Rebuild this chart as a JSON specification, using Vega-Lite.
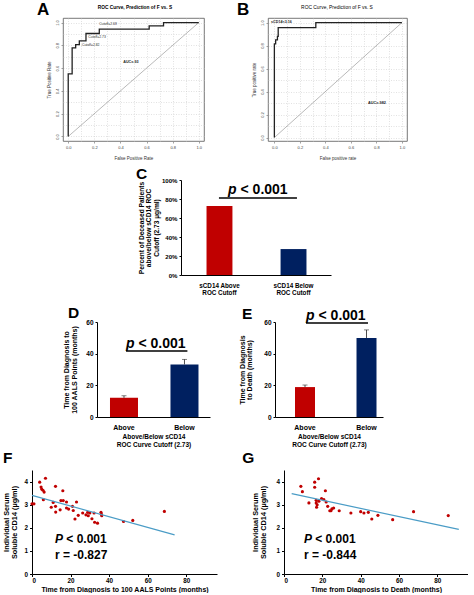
{
  "$schema": "https://vega.github.io/schema/vega-lite/v6.json",
  "description": "ROC curves, bar comparisons and scatter plots of soluble CD14",
  "background": "white",
  "padding": {"left": 2, "top": 0, "right": 0, "bottom": 0},
  "config": {
    "font": "Liberation Sans",
    "view": {"stroke": null},
    "axis": {"labelColor": "#000", "titleColor": "#000", "domainColor": "#000", "tickColor": "#000", "grid": false}
  },
  "spacing": 10,
  "vconcat": [
    {
      "spacing": 7,
      "vconcat": [
        {
          "spacing": 0,
          "hconcat": [
            {"width": 4, "height": 1, "view": {"fill": "#ffffff"}, "data": {"values": []}, "mark": "point", "encoding": {}},
            {
              "spacing": 31,
              "hconcat": [
                {
                  "width": 141,
                  "height": 123,
                  "view": {"stroke": "#555", "strokeWidth": 0.8},
                  "encoding": {
                    "x": {
                      "field": "fpr", "type": "quantitative",
                      "scale": {"domain": [-0.04, 1.04], "nice": false, "zero": false},
                      "axis": {
                        "title": "False Positive Rate", "values": [0, 0.1, 0.2, 0.3, 0.4, 0.5, 0.6, 0.7, 0.8, 0.9, 1],
                        "labelExpr": "round(datum.value * 10) % 2 == 0 ? format(datum.value, '.1f') : ''",
                        "labelFontSize": 4, "titleFontSize": 4.5, "titleFontWeight": "normal",
                        "labelColor": "#444", "titleColor": "#333", "domain": false,
                        "tickSize": 2, "tickColor": "#666", "tickWidth": 0.6,
                        "tickOpacity": {"condition": {"test": "round(datum.value * 10) % 2 == 1", "value": 0}, "value": 1},
                        "grid": true, "gridColor": "#cfcfcf", "gridDash": [1, 1.5], "gridWidth": 0.6,
                        "labelPadding": 2, "titlePadding": 6
                      }
                    },
                    "y": {
                      "field": "tpr", "type": "quantitative",
                      "scale": {"domain": [-0.04, 1.04], "nice": false, "zero": false},
                      "axis": {
                        "title": "True Positive Rate", "values": [0, 0.1, 0.2, 0.3, 0.4, 0.5, 0.6, 0.7, 0.8, 0.9, 1],
                        "labelExpr": "round(datum.value * 10) % 2 == 0 ? format(datum.value, '.1f') : ''",
                        "labelFontSize": 4, "titleFontSize": 4.5, "titleFontWeight": "normal",
                        "labelColor": "#444", "titleColor": "#333", "domain": false,
                        "labelAngle": -90, "labelAlign": "center", "labelBaseline": "bottom",
                        "tickSize": 2, "tickColor": "#666", "tickWidth": 0.6,
                        "tickOpacity": {"condition": {"test": "round(datum.value * 10) % 2 == 1", "value": 0}, "value": 1},
                        "grid": true, "gridColor": "#cfcfcf", "gridDash": [1, 1.5], "gridWidth": 0.6,
                        "labelPadding": 2, "titlePadding": 4
                      }
                    }
                  },
                  "layer": [
                    {
                      "data": {"values": [{"fpr": 0, "tpr": 0}, {"fpr": 1, "tpr": 1}]},
                      "mark": {"type": "line", "color": "#8a8a8a", "strokeWidth": 0.6}
                    },
                    {
                      "data": {"values": [
                        {"fpr": 0, "tpr": 0}, {"fpr": 0, "tpr": 0.55}, {"fpr": 0.03, "tpr": 0.777},
                        {"fpr": 0.057, "tpr": 0.806}, {"fpr": 0.085, "tpr": 0.84}, {"fpr": 0.136, "tpr": 0.904},
                        {"fpr": 0.238, "tpr": 0.942}, {"fpr": 0.62, "tpr": 0.97}, {"fpr": 0.73, "tpr": 1},
                        {"fpr": 1, "tpr": 1}
                      ]},
                      "mark": {"type": "line", "interpolate": "step-after", "color": "#222", "strokeWidth": 1.3},
                      "encoding": {"order": {"value": null}}
                    },
                    {
                      "data": {"values": [
                        {"fpr": 0.238, "tpr": 0.983, "t": "Cutoff=2.68"},
                        {"fpr": 0.154, "tpr": 0.876, "t": "Cutoff=2.73"},
                        {"fpr": 0.105, "tpr": 0.806, "t": "Cutoff=2.82"}
                      ]},
                      "mark": {"type": "text", "align": "left", "baseline": "middle", "fontSize": 3.4, "color": "#333"},
                      "encoding": {"text": {"field": "t"}}
                    },
                    {
                      "data": {"values": [{"fpr": 0.48, "tpr": 0.652, "t": "AUC=.93"}]},
                      "mark": {"type": "text", "align": "center", "baseline": "middle", "fontSize": 3.7, "fontWeight": "bold", "color": "#222"},
                      "encoding": {"text": {"field": "t"}}
                    },
                    {
                      "data": {"values": [{"fpr": 0.511, "tpr": 1.128, "t": "ROC Curve, Prediction of F vs. S"}]},
                      "mark": {"type": "text", "align": "center", "baseline": "middle", "fontSize": 4.8, "fontWeight": "bold", "color": "#000"},
                      "encoding": {"text": {"field": "t"}}
                    },
                    {
                      "data": {"values": [{"fpr": -0.239, "tpr": 1.066, "t": "A"}]},
                      "mark": {"type": "text", "align": "left", "baseline": "alphabetic", "fontSize": 17, "fontWeight": "bold", "color": "#000"},
                      "encoding": {"text": {"field": "t"}}
                    }
                  ]
                },
                {
                  "width": 139,
                  "height": 123,
                  "view": {"stroke": "#555", "strokeWidth": 0.8},
                  "encoding": {
                    "x": {
                      "field": "fpr", "type": "quantitative",
                      "scale": {"domain": [-0.05, 1.04], "nice": false, "zero": false},
                      "axis": {
                        "title": "False positive rate", "values": [0, 0.1, 0.2, 0.3, 0.4, 0.5, 0.6, 0.7, 0.8, 0.9, 1],
                        "labelExpr": "round(datum.value * 10) % 2 == 0 ? format(datum.value, '.1f') : ''",
                        "labelFontSize": 4, "titleFontSize": 4.5, "titleFontWeight": "normal",
                        "labelColor": "#444", "titleColor": "#333", "domain": false,
                        "tickSize": 2, "tickColor": "#666", "tickWidth": 0.6,
                        "tickOpacity": {"condition": {"test": "round(datum.value * 10) % 2 == 1", "value": 0}, "value": 1},
                        "grid": true, "gridColor": "#cfcfcf", "gridDash": [1, 1.5], "gridWidth": 0.6,
                        "labelPadding": 2, "titlePadding": 6
                      }
                    },
                    "y": {
                      "field": "tpr", "type": "quantitative",
                      "scale": {"domain": [-0.03, 1.04], "nice": false, "zero": false},
                      "axis": {
                        "title": "True positive rate", "values": [0, 0.1, 0.2, 0.3, 0.4, 0.5, 0.6, 0.7, 0.8, 0.9, 1],
                        "labelExpr": "round(datum.value * 10) % 2 == 0 ? format(datum.value, '.1f') : ''",
                        "labelFontSize": 4, "titleFontSize": 4.5, "titleFontWeight": "normal",
                        "labelColor": "#444", "titleColor": "#333", "domain": false,
                        "labelAngle": -90, "labelAlign": "center", "labelBaseline": "bottom",
                        "tickSize": 2, "tickColor": "#666", "tickWidth": 0.6,
                        "tickOpacity": {"condition": {"test": "round(datum.value * 10) % 2 == 1", "value": 0}, "value": 1},
                        "grid": true, "gridColor": "#cfcfcf", "gridDash": [1, 1.5], "gridWidth": 0.6,
                        "labelPadding": 2, "titlePadding": 4
                      }
                    }
                  },
                  "layer": [
                    {
                      "data": {"values": [{"fpr": 0, "tpr": 0}, {"fpr": 1, "tpr": 1}]},
                      "mark": {"type": "line", "color": "#8a8a8a", "strokeWidth": 0.6}
                    },
                    {
                      "data": {"values": [
                        {"fpr": 0, "tpr": 0}, {"fpr": 0, "tpr": 0.815}, {"fpr": 0.01, "tpr": 0.85},
                        {"fpr": 0.024, "tpr": 0.88}, {"fpr": 0.03, "tpr": 0.957}, {"fpr": 0.325, "tpr": 1},
                        {"fpr": 1, "tpr": 1}
                      ]},
                      "mark": {"type": "line", "interpolate": "step-after", "color": "#222", "strokeWidth": 1.3},
                      "encoding": {"order": {"value": null}}
                    },
                    {
                      "data": {"values": [{"fpr": -0.026, "tpr": 1.005, "t": "sCD14<3.16"}]},
                      "mark": {"type": "text", "align": "left", "baseline": "middle", "fontSize": 3.7, "fontWeight": "bold", "color": "#222"},
                      "encoding": {"text": {"field": "t"}}
                    },
                    {
                      "data": {"values": [{"fpr": 0.805, "tpr": 0.3, "t": "AUC=.982"}]},
                      "mark": {"type": "text", "align": "center", "baseline": "middle", "fontSize": 3.8, "fontWeight": "bold", "color": "#222"},
                      "encoding": {"text": {"field": "t"}}
                    },
                    {
                      "data": {"values": [{"fpr": 0.491, "tpr": 1.127, "t": "ROC Curve, Prediction of F vs. S"}]},
                      "mark": {"type": "text", "align": "center", "baseline": "middle", "fontSize": 4.9, "color": "#000"},
                      "encoding": {"text": {"field": "t"}}
                    },
                    {
                      "data": {"values": [{"fpr": -0.293, "tpr": 1.066, "t": "B"}]},
                      "mark": {"type": "text", "align": "left", "baseline": "alphabetic", "fontSize": 17, "fontWeight": "bold", "color": "#000"},
                      "encoding": {"text": {"field": "t"}}
                    }
                  ]
                }
              ]
            }
          ]
        },
        {
          "spacing": 0,
          "hconcat": [
            {"width": 104, "height": 1, "view": {"fill": "#ffffff"}, "data": {"values": []}, "mark": "point", "encoding": {}},
            {
              "width": 150,
              "height": 95,
              "resolve": {"scale": {"x": "independent"}},
              "encoding": {
                "y": {
                  "field": "value", "type": "quantitative",
                  "scale": {"domain": [0, 100], "nice": false},
                  "axis": {
                    "values": [0, 20, 40, 60, 80, 100], "labelExpr": "datum.value + '%'",
                    "title": ["Percent of Deceased Patients", "above/below sCD14 ROC", "Cutoff (2.73 µg/ml)"],
                    "titleFontSize": 6.6, "titleFontWeight": "bold", "titleLineHeight": 7.6,
                    "labelFontSize": 6.1, "labelFontWeight": "bold", "tickSize": 2, "labelPadding": 2, "titlePadding": 2
                  }
                }
              },
              "layer": [
                {
                  "data": {"values": [{"group": "Above", "value": 72.7}, {"group": "Below", "value": 27.3}]},
                  "mark": {"type": "bar"},
                  "encoding": {
                    "x": {
                      "field": "group", "type": "nominal",
                      "scale": {"paddingInner": 0.65, "paddingOuter": 0.338, "align": 0.51},
                      "axis": {
                        "title": null, "labelAngle": 0,
                        "labelExpr": "datum.value == 'Above' ? ['sCD14 Above', 'ROC Cutoff'] : ['sCD14 Below', 'ROC Cutoff']",
                        "labelFontSize": 6.3, "labelFontWeight": "bold", "labelLineHeight": 7.5,
                        "ticks": false, "tickSize": 0, "labelPadding": 7, "domainWidth": 1
                      }
                    },
                    "color": {"field": "group", "type": "nominal", "scale": {"domain": ["Above", "Below"], "range": ["#C00000", "#002060"]}, "legend": null}
                  }
                },
                {
                  "encoding": {
                    "x": {"field": "pos", "type": "quantitative", "scale": {"domain": [0, 1], "nice": false, "zero": false}, "axis": null}
                  },
                  "layer": [
                    {
                      "data": {"values": [{"pos": 0.253, "pos2": 0.773, "value": 81}]},
                      "mark": {"type": "rule", "color": "#000", "strokeWidth": 1.5},
                      "encoding": {"x2": {"field": "pos2"}}
                    },
                    {
                      "data": {"values": [{"pos": 0.313, "value": 85.3, "t": "p"}]},
                      "mark": {"type": "text", "align": "left", "baseline": "alphabetic", "fontSize": 14, "fontWeight": "bold", "fontStyle": "italic", "color": "#000"},
                      "encoding": {"text": {"field": "t"}}
                    },
                    {
                      "data": {"values": [{"pos": 0.397, "value": 85.3, "t": "< 0.001"}, {"pos": -0.3, "value": 101, "t": "C"}]},
                      "mark": {"type": "text", "align": "left", "baseline": "alphabetic", "fontWeight": "bold", "color": "#000"},
                      "encoding": {"text": {"field": "t"}, "size": {"condition": {"test": "datum.t == 'C'", "value": 15.5}, "value": 14}}
                    }
                  ]
                }
              ]
            }
          ]
        }
      ]
    },
    {
      "spacing": 2,
      "vconcat": [
        {
          "spacing": 0,
          "hconcat": [
            {"width": 30, "height": 1, "view": {"fill": "#ffffff"}, "data": {"values": []}, "mark": "point", "encoding": {}},
            {
              "spacing": 28,
              "hconcat": [
                {
                  "width": 113,
                  "height": 95,
                  "resolve": {"scale": {"x": "independent"}},
                  "encoding": {
                    "y": {
                      "field": "value", "type": "quantitative",
                      "scale": {"domain": [0, 60], "nice": false},
                      "axis": {
                        "values": [0, 20, 40, 60], "title": ["Time from Diagnosis to", "100 AALS Points (months)"],
                        "titleFontSize": 7, "titleFontWeight": "bold", "titleLineHeight": 8.5,
                        "labelFontSize": 6.5, "labelFontWeight": "bold", "tickSize": 2, "labelPadding": 2, "titlePadding": 8
                      }
                    }
                  },
                  "layer": [
                    {
                      "encoding": {
                        "x": {
                          "field": "group", "type": "nominal",
                          "scale": {"paddingInner": 0.537, "paddingOuter": 0.2025, "align": 0.53},
                          "axis": {
                            "title": ["Above/Below sCD14", "ROC Curve Cutoff (2.73)"], "labelAngle": 0,
                            "labelFontSize": 7, "labelFontWeight": "bold", "ticks": false, "tickSize": 0, "labelPadding": 6,
                            "titleFontSize": 6.5, "titleFontWeight": "bold", "titleLineHeight": 8, "titlePadding": 3
                          }
                        }
                      },
                      "layer": [
                        {
                          "data": {"values": [{"group": "Above", "value": 12.1, "upper": 13.4}, {"group": "Below", "value": 33.2, "upper": 36.4}]},
                          "mark": {"type": "bar"},
                          "encoding": {"color": {"field": "group", "type": "nominal", "scale": {"domain": ["Above", "Below"], "range": ["#C00000", "#002060"]}, "legend": null}}
                        },
                        {
                          "data": {"values": [{"group": "Above", "value": 12.1, "upper": 13.4}, {"group": "Below", "value": 33.2, "upper": 36.4}]},
                          "mark": {"type": "rule", "color": "#222", "strokeWidth": 0.8},
                          "encoding": {"y2": {"field": "upper"}}
                        },
                        {
                          "data": {"values": [{"group": "Above", "value": 13.4}, {"group": "Below", "value": 36.4}]},
                          "mark": {"type": "tick", "color": "#222", "size": 5, "thickness": 0.8}
                        }
                      ]
                    },
                    {
                      "encoding": {
                        "x": {"field": "pos", "type": "quantitative", "scale": {"domain": [0, 1], "nice": false, "zero": false}, "axis": null}
                      },
                      "layer": [
                        {
                          "data": {"values": [{"pos": 0.257, "pos2": 0.8, "value": 41.7}]},
                          "mark": {"type": "rule", "color": "#000", "strokeWidth": 1.5},
                          "encoding": {"x2": {"field": "pos2"}}
                        },
                        {
                          "data": {"values": [{"pos": 0.257, "value": 43.6, "t": "p"}]},
                          "mark": {"type": "text", "align": "left", "baseline": "alphabetic", "fontSize": 14, "fontWeight": "bold", "fontStyle": "italic", "color": "#000"},
                          "encoding": {"text": {"field": "t"}}
                        },
                        {
                          "data": {"values": [{"pos": 0.367, "value": 43.6, "t": "< 0.001"}, {"pos": -0.257, "value": 62.5, "t": "D"}]},
                          "mark": {"type": "text", "align": "left", "baseline": "alphabetic", "fontWeight": "bold", "color": "#000"},
                          "encoding": {"text": {"field": "t"}, "size": {"condition": {"test": "datum.t == 'D'", "value": 15.5}, "value": 14}}
                        }
                      ]
                    }
                  ]
                },
                {
                  "width": 108,
                  "height": 95,
                  "resolve": {"scale": {"x": "independent"}},
                  "encoding": {
                    "y": {
                      "field": "value", "type": "quantitative",
                      "scale": {"domain": [0, 60], "nice": false},
                      "axis": {
                        "values": [0, 20, 40, 60], "title": ["Time from Diagnosis", "to Death (months)"],
                        "titleFontSize": 7, "titleFontWeight": "bold", "titleLineHeight": 7.5,
                        "labelFontSize": 6.5, "labelFontWeight": "bold", "tickSize": 2, "labelPadding": 2, "titlePadding": 11
                      }
                    }
                  },
                  "layer": [
                    {
                      "encoding": {
                        "x": {
                          "field": "group", "type": "nominal",
                          "scale": {"paddingInner": 0.675, "paddingOuter": 0.2155, "align": 0.755},
                          "axis": {
                            "title": ["Above/Below sCD14", "ROC Curve Cutoff (2.73)"], "labelAngle": 0,
                            "labelFontSize": 7, "labelFontWeight": "bold", "ticks": false, "tickSize": 0, "labelPadding": 6,
                            "titleFontSize": 6.5, "titleFontWeight": "bold", "titleLineHeight": 8, "titlePadding": 3
                          }
                        }
                      },
                      "layer": [
                        {
                          "data": {"values": [{"group": "Above", "value": 18.9, "upper": 20.2}, {"group": "Below", "value": 49.9, "upper": 55}]},
                          "mark": {"type": "bar"},
                          "encoding": {"color": {"field": "group", "type": "nominal", "scale": {"domain": ["Above", "Below"], "range": ["#C00000", "#002060"]}, "legend": null}}
                        },
                        {
                          "data": {"values": [{"group": "Above", "value": 18.9, "upper": 20.2}, {"group": "Below", "value": 49.9, "upper": 55}]},
                          "mark": {"type": "rule", "color": "#222", "strokeWidth": 0.8},
                          "encoding": {"y2": {"field": "upper"}}
                        },
                        {
                          "data": {"values": [{"group": "Above", "value": 20.2}, {"group": "Below", "value": 55}]},
                          "mark": {"type": "tick", "color": "#222", "size": 5, "thickness": 0.8}
                        }
                      ]
                    },
                    {
                      "encoding": {
                        "x": {"field": "pos", "type": "quantitative", "scale": {"domain": [0, 1], "nice": false, "zero": false}, "axis": null}
                      },
                      "layer": [
                        {
                          "data": {"values": [{"pos": 0.287, "pos2": 0.861, "value": 59.4}]},
                          "mark": {"type": "rule", "color": "#000", "strokeWidth": 1.5},
                          "encoding": {"x2": {"field": "pos2"}}
                        },
                        {
                          "data": {"values": [{"pos": 0.287, "value": 61.3, "t": "p"}]},
                          "mark": {"type": "text", "align": "left", "baseline": "alphabetic", "fontSize": 14, "fontWeight": "bold", "fontStyle": "italic", "color": "#000"},
                          "encoding": {"text": {"field": "t"}}
                        },
                        {
                          "data": {"values": [{"pos": 0.403, "value": 61.3, "t": "< 0.001"}, {"pos": -0.306, "value": 61.9, "t": "E"}]},
                          "mark": {"type": "text", "align": "left", "baseline": "alphabetic", "fontWeight": "bold", "color": "#000"},
                          "encoding": {"text": {"field": "t"}, "size": {"condition": {"test": "datum.t == 'E'", "value": 15.5}, "value": 14}}
                        }
                      ]
                    }
                  ]
                }
              ]
            }
          ]
        },
        {
          "spacing": 25,
          "hconcat": [
            {
              "width": 185,
              "height": 104,
              "encoding": {
                "x": {
                  "field": "months", "type": "quantitative",
                  "scale": {"domain": [0, 96], "nice": false, "zero": false},
                  "axis": {
                    "values": [0, 20, 40, 60, 80], "title": "Time from Diagnosis to 100 AALS Points (months)",
                    "titleFontSize": 7, "titleFontWeight": "bold", "titlePadding": 2,
                    "labelFontSize": 6.3, "labelFontWeight": "bold", "tickSize": 2.5, "labelPadding": 1
                  }
                },
                "y": {
                  "field": "scd14", "type": "quantitative",
                  "scale": {"domain": [0, 4.52], "nice": false, "zero": false},
                  "axis": {
                    "values": [0, 1, 2, 3, 4], "title": ["Individual Serum", "Soluble CD14 (µg/ml)"],
                    "titleFontSize": 7.3, "titleFontWeight": "bold", "titleLineHeight": 8.3, "titlePadding": 5,
                    "labelFontSize": 6.3, "labelFontWeight": "bold", "tickSize": 2.5, "labelPadding": 2
                  }
                }
              },
              "layer": [
                {
                  "data": {"values": [
                    {"months": 0, "scd14": 3.05}, {"months": 1, "scd14": 3.05}, {"months": 4, "scd14": 3.99},
                    {"months": 4.7, "scd14": 3.78}, {"months": 5, "scd14": 3.69}, {"months": 5.7, "scd14": 3.64},
                    {"months": 6.3, "scd14": 3.56}, {"months": 5.9, "scd14": 3.23}, {"months": 7, "scd14": 4.16},
                    {"months": 10, "scd14": 2.9}, {"months": 11, "scd14": 3.11}, {"months": 12.2, "scd14": 3.81},
                    {"months": 12.2, "scd14": 2.94}, {"months": 12.3, "scd14": 2.69}, {"months": 14.6, "scd14": 2.79},
                    {"months": 15, "scd14": 3.19}, {"months": 16, "scd14": 3.62}, {"months": 16.2, "scd14": 3.19},
                    {"months": 17.9, "scd14": 3.13}, {"months": 17.9, "scd14": 2.87}, {"months": 19, "scd14": 2.82},
                    {"months": 21, "scd14": 2.94}, {"months": 21.4, "scd14": 2.76}, {"months": 23.1, "scd14": 3.13},
                    {"months": 22.3, "scd14": 2.39}, {"months": 24, "scd14": 2.55}, {"months": 26.3, "scd14": 2.65},
                    {"months": 28, "scd14": 2.57}, {"months": 28.9, "scd14": 2.68}, {"months": 29.2, "scd14": 2.53},
                    {"months": 30, "scd14": 2.65}, {"months": 31.1, "scd14": 2.4}, {"months": 32.2, "scd14": 2.65},
                    {"months": 32.5, "scd14": 2.25}, {"months": 34, "scd14": 2.21}, {"months": 35.8, "scd14": 2.68},
                    {"months": 36, "scd14": 2.6}, {"months": 36.2, "scd14": 2.53}, {"months": 47.5, "scd14": 2.28},
                    {"months": 52.3, "scd14": 2.33}, {"months": 68.7, "scd14": 2.72}
                  ]},
                  "mark": {"type": "circle", "size": 10, "color": "#C00000", "opacity": 1}
                },
                {
                  "data": {"values": [{"months": 0, "scd14": 3.42}, {"months": 74, "scd14": 1.7}]},
                  "mark": {"type": "line", "color": "#4A9CC6", "strokeWidth": 1.2}
                },
                {
                  "data": {"values": [{"months": 11.9, "scd14": 1.35, "t": "P"}]},
                  "mark": {"type": "text", "align": "left", "baseline": "alphabetic", "fontSize": 12, "fontWeight": "bold", "fontStyle": "italic", "color": "#000"},
                  "encoding": {"text": {"field": "t"}}
                },
                {
                  "data": {"values": [{"months": 17.8, "scd14": 1.35, "t": "< 0.001"}, {"months": 11.9, "scd14": 0.65, "t": "r = -0.827"}]},
                  "mark": {"type": "text", "align": "left", "baseline": "alphabetic", "fontSize": 12, "fontWeight": "bold", "color": "#000"},
                  "encoding": {"text": {"field": "t"}}
                },
                {
                  "data": {"values": [{"months": -15, "scd14": 4.83, "t": "F"}]},
                  "mark": {"type": "text", "align": "left", "baseline": "alphabetic", "fontSize": 15.5, "fontWeight": "bold", "color": "#000"},
                  "encoding": {"text": {"field": "t"}}
                }
              ]
            },
            {
              "width": 184,
              "height": 104,
              "encoding": {
                "x": {
                  "field": "months", "type": "quantitative",
                  "scale": {"domain": [0, 96], "nice": false, "zero": false},
                  "axis": {
                    "values": [0, 20, 40, 60, 80], "title": "Time from Diagnosis to Death (months)",
                    "titleFontSize": 7, "titleFontWeight": "bold", "titlePadding": 2,
                    "labelFontSize": 6.3, "labelFontWeight": "bold", "tickSize": 2.5, "labelPadding": 1
                  }
                },
                "y": {
                  "field": "scd14", "type": "quantitative",
                  "scale": {"domain": [0, 4.52], "nice": false, "zero": false},
                  "axis": {
                    "values": [0, 1, 2, 3, 4], "title": ["Individual Serum", "Soluble CD14 (µg/ml)"],
                    "titleFontSize": 7.3, "titleFontWeight": "bold", "titleLineHeight": 8.3, "titlePadding": 8,
                    "labelFontSize": 6.3, "labelFontWeight": "bold", "tickSize": 2.5, "labelPadding": 2
                  }
                }
              },
              "layer": [
                {
                  "data": {"values": [
                    {"months": 8.8, "scd14": 3.81}, {"months": 9.6, "scd14": 3.58}, {"months": 13, "scd14": 3.09},
                    {"months": 16, "scd14": 3.99}, {"months": 16, "scd14": 3.77}, {"months": 16.8, "scd14": 3.2},
                    {"months": 16.8, "scd14": 3.09}, {"months": 17, "scd14": 2.9}, {"months": 17.3, "scd14": 3.01},
                    {"months": 18, "scd14": 4.14}, {"months": 18.2, "scd14": 3.16}, {"months": 19.6, "scd14": 3.28},
                    {"months": 20.8, "scd14": 3.23}, {"months": 21.6, "scd14": 3.62}, {"months": 22, "scd14": 3.13},
                    {"months": 22.8, "scd14": 2.94}, {"months": 23.9, "scd14": 2.75}, {"months": 24.5, "scd14": 2.75},
                    {"months": 25, "scd14": 2.83}, {"months": 25.9, "scd14": 2.87}, {"months": 28.8, "scd14": 2.75},
                    {"months": 34.9, "scd14": 2.65}, {"months": 40, "scd14": 2.71}, {"months": 41.7, "scd14": 2.65},
                    {"months": 44, "scd14": 2.68}, {"months": 45.8, "scd14": 2.39}, {"months": 49, "scd14": 2.55},
                    {"months": 56.7, "scd14": 2.36}, {"months": 67.6, "scd14": 2.71}, {"months": 85.7, "scd14": 2.54}
                  ]},
                  "mark": {"type": "circle", "size": 10, "color": "#C00000", "opacity": 1}
                },
                {
                  "data": {"values": [{"months": 4, "scd14": 3.49}, {"months": 91.2, "scd14": 1.94}]},
                  "mark": {"type": "line", "color": "#4A9CC6", "strokeWidth": 1.2}
                },
                {
                  "data": {"values": [{"months": 10.4, "scd14": 1.35, "t": "P"}]},
                  "mark": {"type": "text", "align": "left", "baseline": "alphabetic", "fontSize": 12, "fontWeight": "bold", "fontStyle": "italic", "color": "#000"},
                  "encoding": {"text": {"field": "t"}}
                },
                {
                  "data": {"values": [{"months": 16.3, "scd14": 1.35, "t": "< 0.001"}, {"months": 10.4, "scd14": 0.65, "t": "r = -0.844"}]},
                  "mark": {"type": "text", "align": "left", "baseline": "alphabetic", "fontSize": 12, "fontWeight": "bold", "color": "#000"},
                  "encoding": {"text": {"field": "t"}}
                },
                {
                  "data": {"values": [{"months": -21.8, "scd14": 4.83, "t": "G"}]},
                  "mark": {"type": "text", "align": "left", "baseline": "alphabetic", "fontSize": 15.5, "fontWeight": "bold", "color": "#000"},
                  "encoding": {"text": {"field": "t"}}
                }
              ]
            }
          ]
        }
      ]
    }
  ]
}
